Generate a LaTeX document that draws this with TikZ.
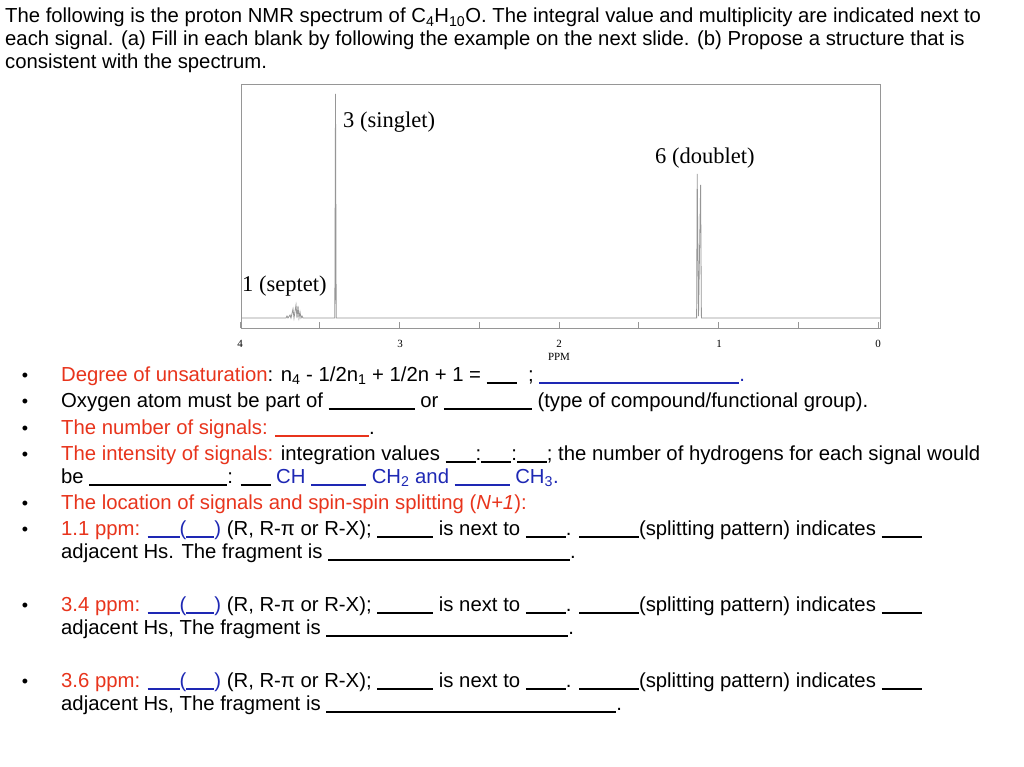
\documentclass[tikz,border=0pt]{standalone}
\usepackage{fontspec}
\setmainfont{Liberation Sans}
\newfontfamily\serf{Liberation Serif}
\definecolor{myred}{RGB}{232,52,28}
\definecolor{myblue}{RGB}{30,40,180}
\definecolor{ax}{RGB}{150,150,150}
\newcommand\blank[2][black]{\textcolor{#1}{\rule[-2.5pt]{#2pt}{1.1pt}}}
\newcommand\R[1]{\textcolor{myred}{#1}}
\newcommand\B[1]{\textcolor{myblue}{#1}}
\begin{document}
\begin{tikzpicture}[x=1pt,y=-1pt,
  txt/.style={anchor=base west,inner sep=0pt,font=\fontsize{20.3}{22}\selectfont},
  bul/.style={anchor=base,inner sep=0pt,font=\fontsize{18}{20}\selectfont},
  lab/.style={anchor=base west,inner sep=0pt,font=\serf\fontsize{22.5}{24}\selectfont},
  tick/.style={anchor=base,inner sep=0pt,font=\serf\fontsize{11}{12}\selectfont},
  sp/.style={draw=ax,line width=0.8pt}]
\useasboundingbox (0,0) rectangle (1024,767);
\fill[white] (0,0) rectangle (1024,767);
% header
\node[txt] (h1) at (5,23) {The following is the proton NMR spectrum of C\textsubscript{4}H\textsubscript{10}O. The integral value and multiplicity are indicated next to};
\node[txt] (h2) at (5,46) {each signal. (a) Fill in each blank by following the example on the next slide. (b) Propose a structure that is};
\node[txt] (h3) at (5,69) {consistent with the spectrum.};
% spectrum
\draw[ax,line width=0.6pt] (241,84) rectangle (880,328);
\foreach \p in {0,...,8}{\draw[ax,line width=0.6pt] (240+\p*79.75,328) -- (240+\p*79.75,322);}
\node[tick] (t4) at (240,347) {4};
\node[tick] (t3) at (400,347) {3};
\node[tick] (t2) at (559,347) {2};
\node[tick] (t1) at (719,347) {1};
\node[tick] (t0) at (878,347) {0};
\node[tick] (ppm) at (559,360) {PPM};
\draw[sp] (241,318) -- (286,318) -- (287,316) -- (288,318) -- (290,315) -- (291,318) -- (293,309) -- (294,318) -- (296,305) -- (297,318) -- (298,306) -- (299,318) -- (300,312) -- (301,318) -- (302,316) -- (303,318)
 -- (334.8,318) -- (335.5,94) -- (336.2,318) -- (696.6,318) -- (697.2,174) -- (698.5,316) -- (700.6,185) -- (701.4,318) -- (880,318);
\node[lab] (s) at (343,128) {3 (singlet)};
\node[lab] (d) at (655,164) {6 (doublet)};
\node[lab] (sep) at (242,291) {1 (septet)};
% bullets
\foreach \y in {381,407,434,460,509,535,611,687}{\node[bul] at (25,\y) {•};}
\node[txt] (l1) at (61,381) {\R{Degree of unsaturation}: n\textsubscript{4} - 1/2n\textsubscript{1} + 1/2n + 1 = \blank{30} \ ; \blank[myblue]{200}\B{.}};
\node[txt] (l2) at (61,407) {Oxygen atom must be part of \blank{86} or \blank{88} (type of compound/functional group).};
\node[txt] (l3) at (61,434) {\R{The number of signals: \blank[myred]{94}}.};
\node[txt] (l4) at (61,460) {\R{The intensity of signals:} integration values \blank{30}:\blank{30}:\blank{30}; the number of hydrogens for each signal would};
\node[txt] (l5) at (61,483) {be \blank{138}: \blank{30} \B{CH \blank[myblue]{55} CH\textsubscript{2} and \blank[myblue]{55} CH\textsubscript{3}.}};
\node[txt] (l6) at (61,509) {\R{The location of signals and spin-spin splitting (\textit{N+1}):}};
\node[txt] (l7) at (61,535) {\R{1.1 ppm: }\B{\blank[myblue]{32}(\blank[myblue]{28})} (R, R-π or R-X); \blank{56} is next to \blank{40}. \blank{60}(splitting pattern) indicates \blank{40}};
\node[txt] (l8) at (61,558) {adjacent Hs. The fragment is \blank{242}.};
\node[txt] (l9) at (61,611) {\R{3.4 ppm: }\B{\blank[myblue]{32}(\blank[myblue]{28})} (R, R-π or R-X); \blank{56} is next to \blank{40}. \blank{60}(splitting pattern) indicates \blank{40}};
\node[txt] (l10) at (61,634) {adjacent Hs, The fragment is \blank{242}.};
\node[txt] (l11) at (61,687) {\R{3.6 ppm: }\B{\blank[myblue]{32}(\blank[myblue]{28})} (R, R-π or R-X); \blank{56} is next to \blank{40}. \blank{60}(splitting pattern) indicates \blank{40}};
\node[txt] (l12) at (61,710) {adjacent Hs, The fragment is \blank{290}.};
\end{tikzpicture}
\end{document}
